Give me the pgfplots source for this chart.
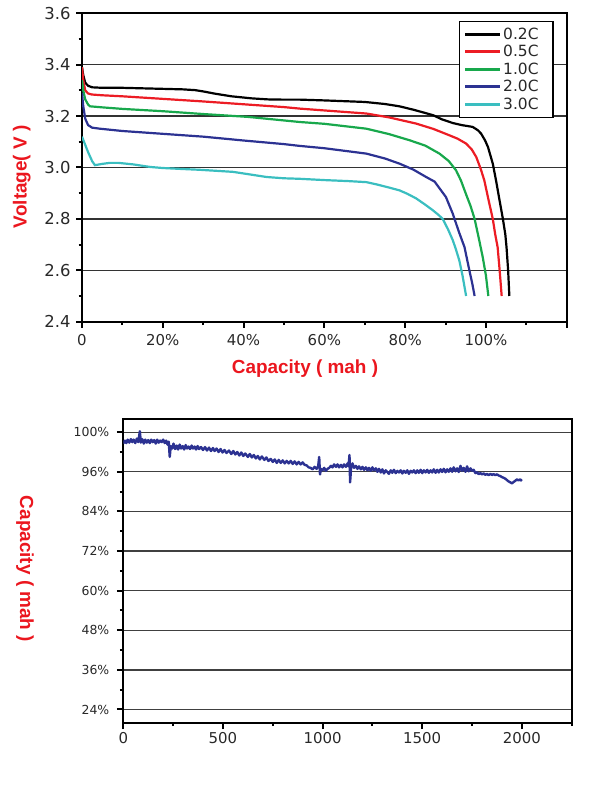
\documentclass[border=0pt]{standalone}
\usepackage{pgfplots}
\pgfplotsset{compat=1.18}
\usepackage{pgfplotstable}
\usepackage{fontspec}
\setmainfont{DejaVu Sans}
\newfontfamily\labfont{Liberation Sans}

\definecolor{cRed}{RGB}{236,28,36}
\definecolor{cGreen}{RGB}{24,168,76}
\definecolor{cNavy}{RGB}{44,50,146}
\definecolor{cCyan}{RGB}{58,190,192}
\definecolor{cTick}{RGB}{40,40,40}
\definecolor{cLab}{RGB}{235,22,30}

% discharge curves: capacity (%) vs voltage (V)
\pgfplotstableread{
x y
0 3.39
0.3 3.36
0.8 3.33
1.5 3.318
2.5 3.312
5 3.31
10 3.31
15 3.308
20 3.306
25 3.304
28 3.301
30 3.296
33 3.287
37 3.277
42 3.269
46 3.265
50 3.264
54 3.264
60 3.261
65 3.258
70 3.255
75 3.247
78.6 3.238
82 3.225
85 3.212
87 3.203
89 3.188
91.8 3.173
94 3.165
96.7 3.158
98 3.145
98.8 3.132
99.8 3.105
100.5 3.08
101.7 3.015
102.5 2.95
103.4 2.87
104.2 2.80
104.8 2.74
105.1 2.69
105.5 2.60
105.8 2.50
}\dataA
\pgfplotstableread{
x y
0 3.39
0.3 3.34
0.8 3.30
1.5 3.288
2.4 3.284
5 3.281
10 3.277
15 3.272
20 3.267
30 3.257
40 3.246
50 3.235
54 3.229
60 3.222
70.4 3.21
76 3.195
82.7 3.171
87 3.15
91 3.125
93 3.112
95.1 3.093
96.5 3.07
97.6 3.041
98.7 2.995
99.6 2.95
100.7 2.87
101.7 2.80
102.3 2.74
102.9 2.69
103.4 2.60
103.9 2.50
}\dataB
\pgfplotstableread{
x y
0 3.34
0.3 3.30
0.8 3.265
1.5 3.245
2 3.238
5 3.234
10 3.228
20 3.219
30 3.208
41 3.197
53.9 3.177
60 3.17
70.4 3.151
76 3.13
81.1 3.106
85 3.085
88.5 3.054
90.8 3.025
92.6 2.989
93.8 2.95
95.1 2.895
96.2 2.85
97.2 2.80
98.3 2.72
99.2 2.652
100 2.58
100.6 2.50
}\dataC
\pgfplotstableread{
x y
0 3.29
0.3 3.24
0.8 3.19
1.5 3.165
2.5 3.155
4.4 3.151
10 3.142
20 3.131
30 3.12
40 3.105
50 3.091
53.9 3.084
60 3.075
70.4 3.054
75 3.035
78.6 3.015
82 2.992
85.2 2.963
87.3 2.945
90.1 2.885
91.8 2.82
93.3 2.75
94.7 2.69
95.9 2.60
96.6 2.55
97.2 2.50
}\dataD
\pgfplotstableread{
x y
0 3.12
0.5 3.10
1.5 3.06
2.5 3.025
3.2 3.009
5 3.014
6.9 3.018
9 3.018
12.7 3.012
16.9 3.002
20 2.998
25 2.994
29.2 2.991
37.4 2.983
45.7 2.963
50 2.958
53.9 2.956
60 2.951
66 2.947
70.4 2.943
73 2.934
76 2.922
78.6 2.911
80.5 2.898
82.7 2.88
85 2.855
86.9 2.833
88.3 2.815
89.3 2.80
90.6 2.76
91.8 2.717
92.6 2.68
93.4 2.639
94.2 2.58
95.1 2.50
}\dataE

% cycle life: cycle number vs capacity retention (%)
\pgfplotstableread{
cyc cap
0 98.85
8 99.15
15 98.90
22 99.25
30 98.95
38 99.30
45 99.00
52 99.25
60 98.90
68 99.35
75 99.00
83 100.10
88 98.95
95 99.30
103 98.85
110 99.25
118 98.95
125 99.20
133 98.90
140 99.25
148 99.00
155 99.20
163 98.85
170 99.25
178 98.95
185 99.15
193 99.00
200 99.25
208 98.90
215 99.15
222 98.75
228 99.05
233 97.50
238 98.60
245 98.35
252 98.85
260 98.30
268 98.65
275 98.25
283 98.75
290 98.35
298 98.60
305 98.25
313 98.70
320 98.35
328 98.55
335 98.30
343 98.65
350 98.35
358 98.55
365 98.25
373 98.60
380 98.30
390 98.50
400 98.20
410 98.50
420 98.15
430 98.45
440 98.10
450 98.40
458 98.10
468 98.35
478 98.00
488 98.30
498 97.95
508 98.20
518 97.90
530 98.15
542 97.80
552 98.10
562 97.75
572 98.00
582 97.65
592 97.95
602 97.60
612 97.85
625 97.50
635 97.80
645 97.45
655 97.70
665 97.35
675 97.60
685 97.25
695 97.55
708 97.20
718 97.45
728 97.10
740 97.30
750 97.00
760 97.25
770 96.90
780 97.20
790 96.90
800 97.15
810 96.85
820 97.10
830 96.85
840 97.10
850 96.80
860 97.05
870 96.75
880 97.00
890 96.75
900 96.95
910 96.70
920 96.65
930 96.45
940 96.40
950 96.25
960 96.50
970 96.30
978 96.60
983 97.50
987 95.20
992 96.30
1000 96.15
1008 96.40
1016 96.10
1025 96.30
1033 96.40
1042 96.60
1050 96.45
1058 96.75
1067 96.50
1075 96.75
1083 96.45
1092 96.70
1100 96.45
1108 96.75
1117 96.50
1125 96.85
1130 96.55
1135 97.70
1138 92.80
1143 96.40
1150 96.85
1158 96.40
1167 96.60
1175 96.30
1183 96.55
1192 96.25
1200 96.50
1208 96.20
1217 96.45
1225 96.15
1233 96.40
1242 96.10
1250 96.45
1258 96.15
1267 96.35
1275 96.00
1283 96.30
1292 95.80
1300 96.25
1308 95.50
1317 96.15
1325 95.90
1333 95.40
1342 96.15
1350 95.70
1358 96.20
1367 95.60
1375 96.10
1383 95.80
1392 96.15
1400 95.50
1408 96.10
1417 95.70
1425 96.15
1433 95.40
1442 96.10
1450 95.80
1458 96.15
1467 95.60
1475 96.15
1483 95.70
1492 96.20
1500 95.60
1508 96.15
1517 95.80
1525 96.20
1533 95.70
1542 96.15
1550 95.80
1558 96.25
1567 95.70
1575 96.20
1583 95.80
1592 96.25
1600 95.95
1608 96.30
1617 95.85
1625 96.25
1633 96.00
1642 96.35
1650 96.00
1658 96.45
1667 96.05
1675 96.35
1683 95.95
1692 96.60
1700 96.10
1708 96.40
1717 96.00
1725 96.55
1733 96.05
1742 96.35
1750 96.10
1758 96.20
1767 95.60
1775 95.90
1783 95.30
1792 95.60
1800 95.20
1808 95.50
1817 95.10
1825 95.35
1833 95.00
1842 95.35
1850 95.05
1858 95.30
1867 95.00
1875 95.25
1883 94.90
1892 94.70
1900 94.40
1908 94.20
1917 93.90
1925 93.50
1933 93.10
1942 92.80
1950 92.50
1958 92.90
1967 93.30
1975 93.70
1983 93.40
1992 93.70
2000 93.20
}\dataCycle

\begin{document}
\begin{tikzpicture}
\useasboundingbox (0,0) rectangle (598bp,787bp);

% ---------------- discharge curves ----------------
\begin{axis}[
  at={(82bp,465.3bp)}, anchor=south west,
  scale only axis, width=484.7bp, height=308.4bp,
  xmin=0, xmax=120, ymin=2.4, ymax=3.6,
  xtick={0,20,40,60,80,100,120},
  xticklabels={0,20\%,40\%,60\%,80\%,100\%,{}},
  minor xtick={10,30,50,70,90,110},
  ytick={2.4,2.6,2.8,3.0,3.2,3.4,3.6},
  yticklabels={2.4,2.6,2.8,3.0,3.2,3.4,3.6},
  minor ytick={2.5,2.7,2.9,3.1,3.3,3.5},
  tick pos=left, tick align=outside,
  major tick length=6bp, minor tick length=3.5bp,
  every tick/.style={black, line width=2bp},
  ymajorgrids, major grid style={black!80, line width=1.3bp},
  axis line style={black, line width=2.2bp},
  xticklabel style={font=\fontsize{15}{15}\selectfont, text=cTick, yshift=-3bp},
  yticklabel style={font=\fontsize{16.5}{16.5}\selectfont, text=cTick, xshift=-2bp},
  legend style={at={(0.778,0.976)}, anchor=north west, draw=black,
    line width=1.2bp, font=\fontsize{15.5}{15.5}\selectfont,
    inner xsep=4bp, inner ysep=5bp, row sep=1.6bp, text=cTick,
    nodes={inner sep=1.5bp}},
  legend cell align=left,
  legend image code/.code={\draw[#1, line width=3bp] (0bp,0bp) -- (35bp,0bp);},
]
\addplot[black, line width=2.2bp] table[x=x,y=y] {\dataA};
\addlegendentry{0.2C\kern9bp}
\addplot[cRed, line width=2.2bp] table[x=x,y=y] {\dataB};
\addlegendentry{0.5C\kern9bp}
\addplot[cGreen, line width=2.2bp] table[x=x,y=y] {\dataC};
\addlegendentry{1.0C\kern9bp}
\addplot[cNavy, line width=2.2bp] table[x=x,y=y] {\dataD};
\addlegendentry{2.0C\kern9bp}
\addplot[cCyan, line width=2.2bp] table[x=x,y=y] {\dataE};
\addlegendentry{3.0C\kern9bp}
\end{axis}

\node[rotate=90, text=cLab, font=\labfont\bfseries\fontsize{19}{19}\selectfont]
  at (21.7bp,610.3bp) {Voltage( V )};
\node[text=cLab, font=\labfont\bfseries\fontsize{19}{19}\selectfont]
  at (305bp,418bp) {Capacity ( mah )};

% ---------------- cycle life ----------------
% above 96 % the scale is stretched threefold (100 % sits one grid step above 96 %)
\begin{axis}[
  at={(123.3bp,64.3bp)}, anchor=south west,
  scale only axis, width=448.4bp, height=303.7bp,
  xmin=0, xmax=2250, ymin=20, ymax=112,
  xtick={0,500,1000,1500,2000},
  xticklabels={0,500,1000,1500,2000},
  minor xtick={250,750,1250,1750,2250},
  ytick={24,36,48,60,72,84,96,108},
  yticklabels={24\%,36\%,48\%,60\%,72\%,84\%,96\%,100\%},
  minor ytick={30,42,54,66,78,90,102},
  tick pos=left, tick align=outside,
  major tick length=6.5bp, minor tick length=3.5bp,
  every tick/.style={black, line width=2bp},
  ymajorgrids, major grid style={black!75, line width=1.3bp},
  axis line style={black, line width=2bp},
  xticklabel style={font=\fontsize{15}{15}\selectfont, text=cTick},
  yticklabel style={font=\fontsize{12.5}{12.5}\selectfont, text=cTick, xshift=-4bp},
]
\addplot[cNavy, line width=2.4bp, line join=round] table[x=cyc,
  y expr={ifthenelse(\thisrow{cap}>96, 96+3*(\thisrow{cap}-96), \thisrow{cap})}] {\dataCycle};
\end{axis}

\node[rotate=-90, text=cLab, font=\labfont\bfseries\fontsize{19}{19}\selectfont]
  at (25bp,218bp) {Capacity ( mah )};
\end{tikzpicture}
\end{document}
